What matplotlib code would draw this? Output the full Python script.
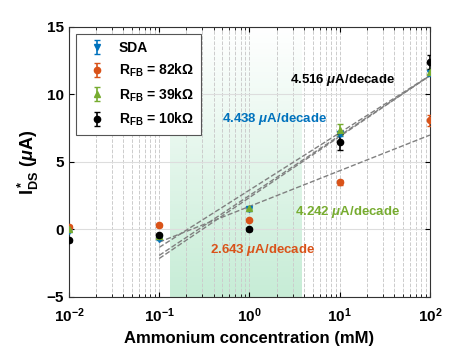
import matplotlib.pyplot as plt
import numpy as np

plt.rcParams['font.family'] = ['Liberation Sans', 'DejaVu Sans']
plt.rcParams['font.weight'] = 'bold'
plt.rcParams['mathtext.fontset'] = 'custom'
plt.rcParams['mathtext.rm'] = 'Liberation Sans:bold'
plt.rcParams['mathtext.it'] = 'Liberation Sans:italic:bold'
plt.rcParams['mathtext.bf'] = 'Liberation Sans:bold'

# data
conc = [0.01, 0.1, 1, 10, 100]
labels = ['SDA', r'R$_{\rm FB}$ = 82k$\Omega$', r'R$_{\rm FB}$ = 39k$\Omega$', r'R$_{\rm FB}$ = 10k$\Omega$']
colors = ['#0072BD', '#D95319', '#77AC30', 'black']
markers = ['v', 'o', '^', 'o']
i_sda = [-0.1, -0.7, 1.5, 7.1, 11.6]
i_82k = [0.2, 0.3, 0.7, 3.5, 8.1]
i_39k = [0.0, -0.5, 1.6, 7.4, 11.7]
i_10k = [-0.8, -0.4, 0.0, 6.5, 12.4]
e_sda = [0.1, 0.1, 0.1, 0.2, 0.2]
e_82k = [0.1, 0.1, 0.1, 0.2, 0.4]
e_39k = [0.1, 0.1, 0.1, 0.4, 0.2]
e_10k = [0.1, 0.1, 0.1, 0.6, 0.5]

# fits: y = b + slope*log10(x), drawn from 0.1 to 100 mM
slopes = [4.438, 2.643, 4.242, 4.516]
intercepts = [2.52, 1.71, 2.92, 2.37]
fit_x = [0.1, 100]

fig = plt.figure(figsize=(4.74, 3.58), dpi=100)
ax = fig.add_axes([0.1456, 0.1704, 0.7614, 0.7542])
ax.set_xscale('log')

# green shaded band, fading upwards
rgba = np.zeros((100, 1, 4))
rgba[..., 0] = 0.45
rgba[..., 1] = 0.82
rgba[..., 2] = 0.6
rgba[..., 3] = np.linspace(0.4, 0.0, 100).reshape(-1, 1)
ax.imshow(rgba, extent=[0.1315, 3.82, -5, 15], aspect='auto', origin='lower', zorder=0)

for b, s in zip(intercepts, slopes):
    xx = np.array(fit_x)
    ax.plot(xx, b + s * np.log10(xx), '--', color='#808080', lw=1, zorder=2)

for y, e, c, m, lab in zip([i_sda, i_82k, i_39k, i_10k], [e_sda, e_82k, e_39k, e_10k],
                           colors, markers, labels):
    ax.errorbar(conc, y, yerr=e, fmt=m, color=c, ms=4.5, capsize=2.5, lw=1.2, label=lab, zorder=3)

ax.text(2.81, 11.1, r'4.516 $\mu$A/decade', color='black', fontsize=9.5, va='center')
ax.text(0.495, 8.2, r'4.438 $\mu$A/decade', color='#0072BD', fontsize=9.5, va='center')
ax.text(3.19, 1.33, r'4.242 $\mu$A/decade', color='#77AC30', fontsize=9.5, va='center')
ax.text(0.363, -1.55, r'2.643 $\mu$A/decade', color='#D95319', fontsize=9.5, va='center')

ax.set_xlim(0.01, 100)
ax.set_ylim(-5, 15)
ax.set_yticks([-5, 0, 5, 10, 15])
ax.grid(True, which='major', axis='y', color='#dddddd', lw=0.8)
ax.grid(True, which='both', axis='x', color='#cccccc', ls='--', lw=0.7)
ax.tick_params(which='both', direction='in', labelsize=11, top=True, right=True)
ax.tick_params(axis='x', pad=7)
ax.set_xlabel('Ammonium concentration (mM)', fontsize=12, fontweight='bold')
ax.set_ylabel(r'I$^*_{\rm DS}$ ($\mu$A)', fontsize=13, fontweight='bold')
for sp in ax.spines.values():
    sp.set_color('#333333')

leg = ax.legend(loc='upper left', fontsize=10, fancybox=False, edgecolor='#555555',
                framealpha=1, handletextpad=0.6, borderpad=0.5, labelspacing=0.5)
leg.get_frame().set_linewidth(0.8)

plt.savefig('out.png', dpi=100)
